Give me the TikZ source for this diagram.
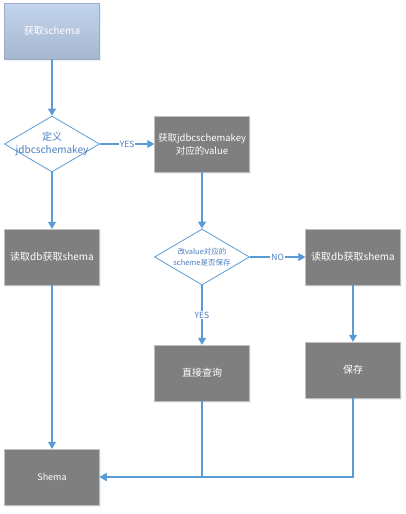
\documentclass[tikz,border=0pt]{standalone}
\usepackage{fontspec}
\setmainfont{Noto Sans CJK SC}
\usetikzlibrary{arrows.meta,shapes.geometric,shadows}
\definecolor{linkblue}{HTML}{5B9BD5}
\definecolor{textblue}{HTML}{4A7EC2}
\definecolor{boxgray}{HTML}{7F7F7F}
\definecolor{boxedge}{HTML}{C0C0C0}
\definecolor{starttop}{HTML}{C3D4EE}
\definecolor{startbot}{HTML}{A6B6CE}
\definecolor{startedge}{HTML}{9EADC4}
\tikzstyle{proceso}=[draw=boxedge, fill=boxgray, text=white, align=center,
  minimum width=95pt, minimum height=56pt, inner sep=1pt,
  font=\fontsize{10}{13}\selectfont,
  drop shadow={shadow xshift=1pt, shadow yshift=-1.5pt, fill=linkblue, opacity=0.12}]
\tikzstyle{inicio} = [proceso, draw=startedge, top color=starttop, bottom color=startbot]
\tikzstyle{decision} = [diamond, draw=linkblue, fill=white, line width=0.8pt,
  minimum width=95pt, minimum height=56pt, inner sep=0pt]
\tikzstyle{dtext} = [text=textblue, align=center, inner sep=0pt]
\tikzstyle{line} = [draw, line width=1.2pt, color=linkblue, -{Triangle[width=8pt,length=7pt]}]
\tikzstyle{etiqueta} = [fill=white, text=textblue, inner sep=1pt, font=\fontsize{8.5}{10}\selectfont]

\begin{document}
\begin{tikzpicture}[x=1pt,y=-1pt]
  \useasboundingbox (0,0) rectangle (406,514);

  \path (52,31) node (get) [inicio] {获取schema};
  \path (52,144) node (haskey) [decision,
    label={[dtext,font=\fontsize{10}{13}\selectfont]center:定义\\jdbcschemakey}] {};
  \path (202,144) node (getval) [proceso, font=\fontsize{9.5}{13}\selectfont] {获取jdbcschemakey\\对应的value};
  \path (202,257) node (saved) [decision,
    label={[dtext,font=\fontsize{7.5}{11}\selectfont]center:改value对应的\\scheme是否保存}] {};
  \path (52,257) node (readl) [proceso] {读取db获取shema};
  \path (353,257) node (readr) [proceso] {读取db获取shema};
  \path (202,373) node (query) [proceso] {直接查询};
  \path (353,370) node (store) [proceso] {保存};
  \path (52,477) node (shema) [proceso, font=\fontsize{9}{11}\selectfont] {Shema};

  \path [line] (get.south) -- (haskey.north);
  \path [line] (haskey.east) -- node [etiqueta] {YES} (getval.west);
  \path [line] (haskey.south) -- (readl.north);
  \path [line] (getval.south) -- (saved.north);
  \path [line] (saved.east) -- node [etiqueta] {NO} (readr.west);
  \path [line] (saved.south) -- node [etiqueta] {YES} (query.north);
  \path [line] (readr.south) -- (store.north);
  \path [line] (readl.south) -- (shema.north);
  \path [line] (query.south) |- (shema.east);
  \path [line] (store.south) |- (shema.east);
\end{tikzpicture}
\end{document}
